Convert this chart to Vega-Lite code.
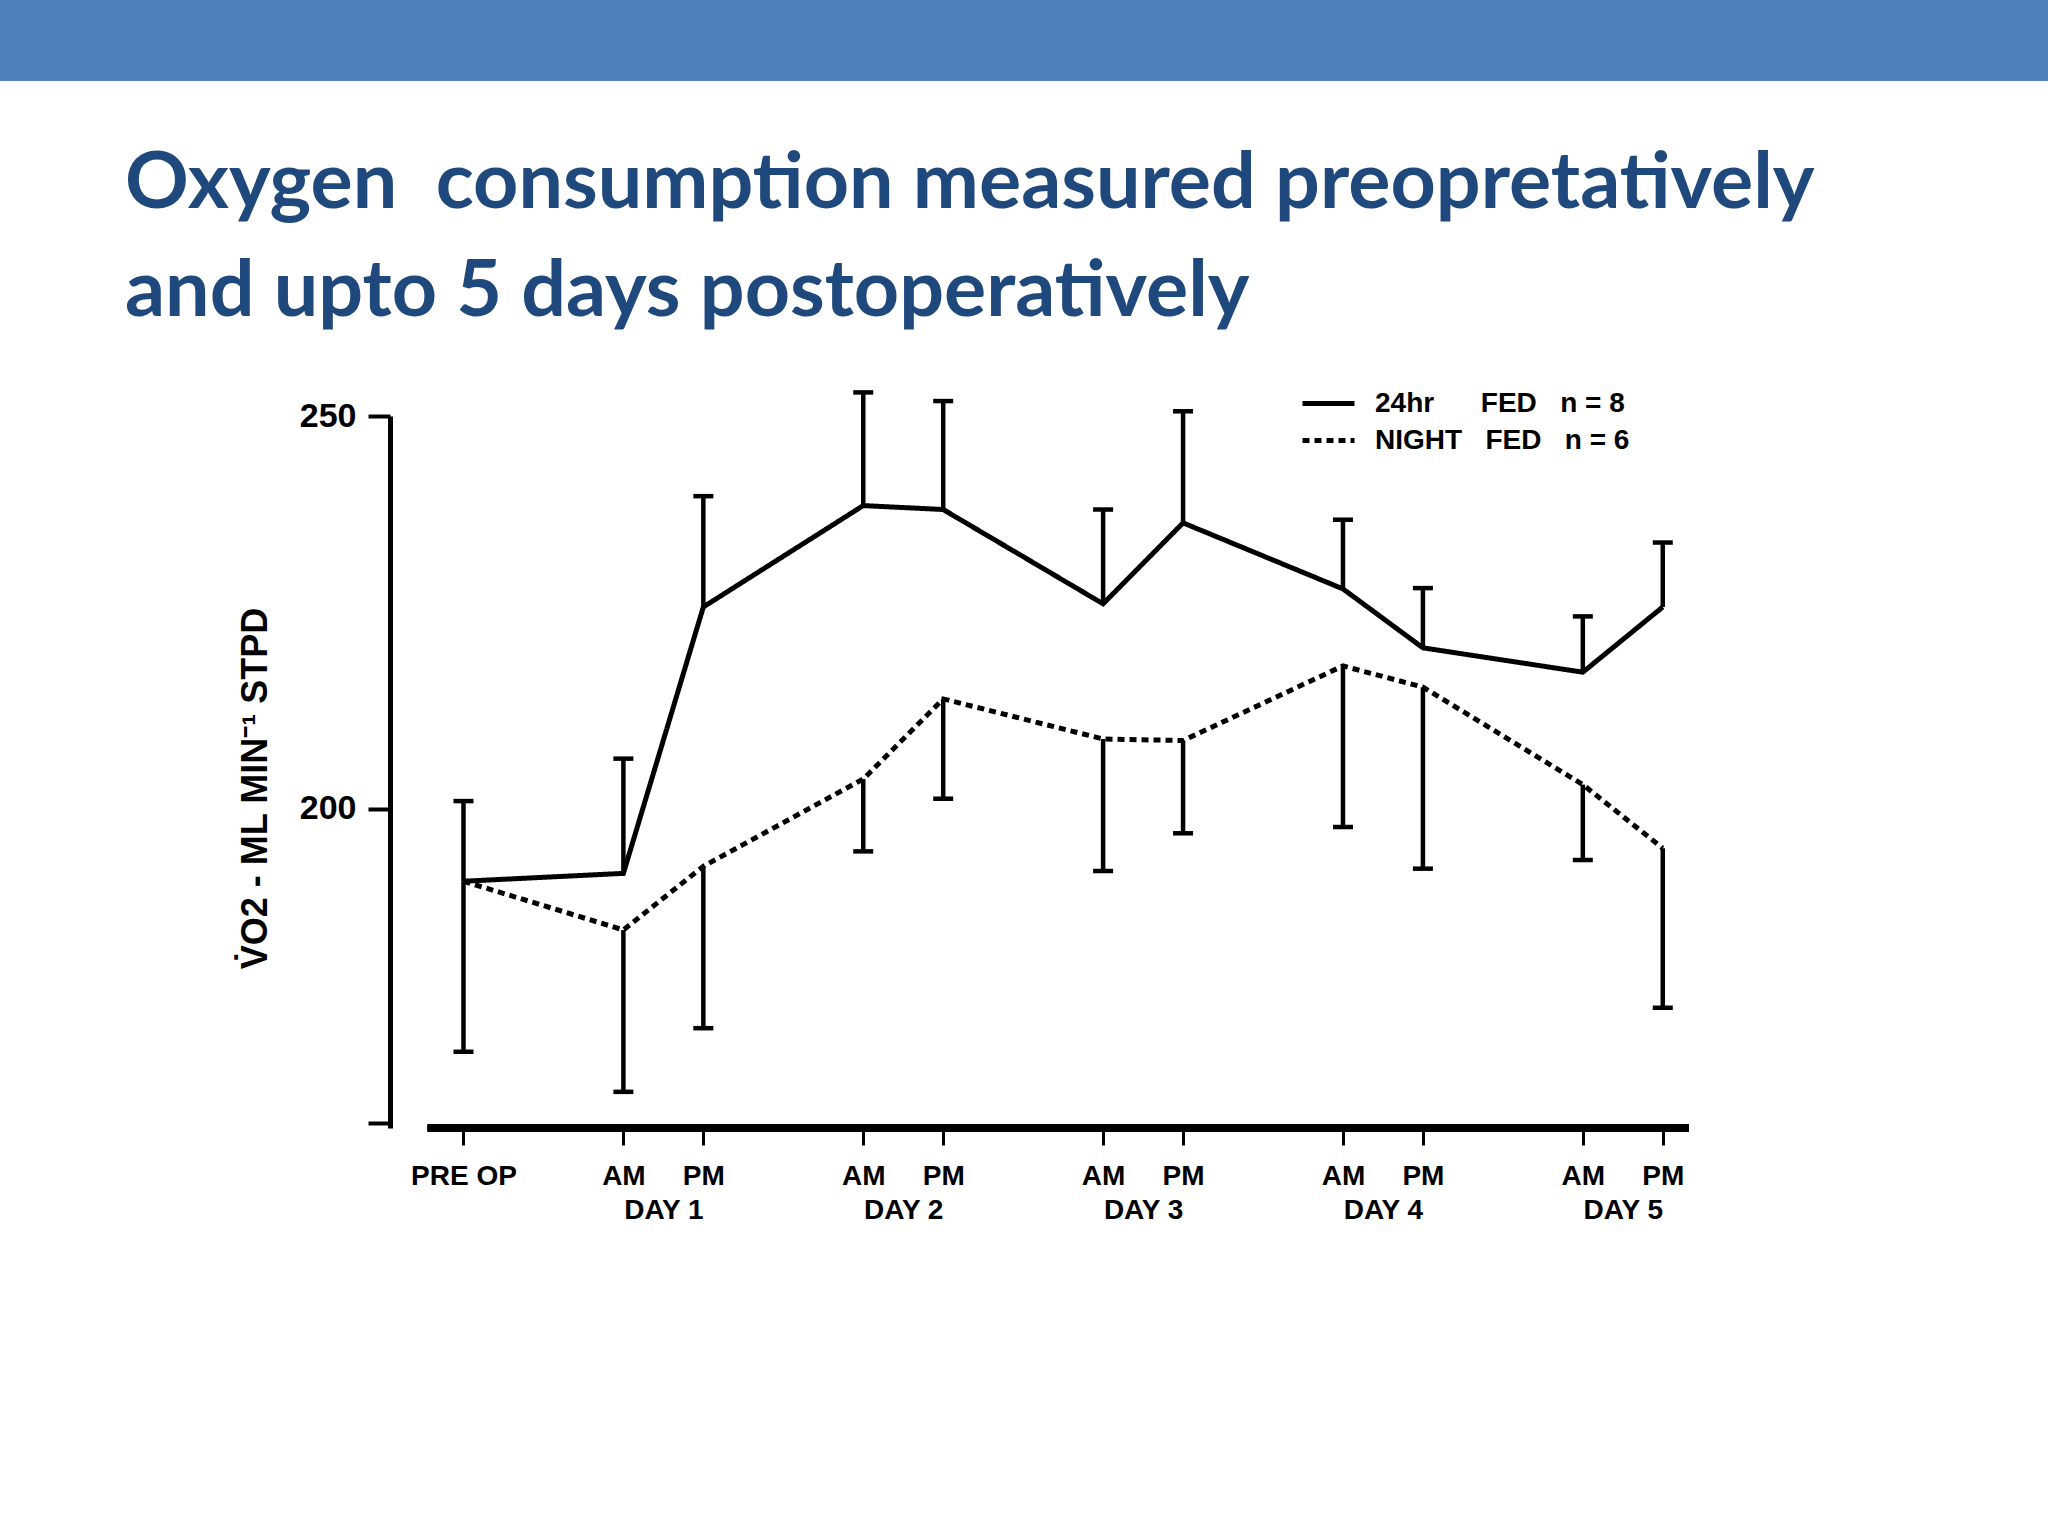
{
  "$schema": "https://vega.github.io/schema/vega-lite/v6.json",
  "padding": 0,
  "background": "white",
  "spacing": 64,
  "config": {
    "view": {"stroke": null},
    "font": "Liberation Sans"
  },
  "vconcat": [
    {
      "width": 2048,
      "height": 81,
      "data": {"values": [{"band": "header"}]},
      "mark": {"type": "rect", "color": "#4F81BD"},
      "encoding": {
        "x": {"datum": 0, "type": "quantitative", "scale": {"domain": [0, 1], "nice": false}, "axis": null},
        "x2": {"datum": 1},
        "y": {"datum": 0, "type": "quantitative", "scale": {"domain": [0, 1], "nice": false}, "axis": null},
        "y2": {"datum": 1}
      }
    },
    {
      "width": 1689,
      "height": 712,
      "title": {
        "text": ["Oxygen\u00a0 consumption measured preopretatively", "and upto 5 days postoperatively"],
        "anchor": "start",
        "frame": "group",
        "orient": "top",
        "dx": 125,
        "offset": 57,
        "font": "Lato",
        "fontSize": 79,
        "fontWeight": "bold",
        "color": "#1F497D",
        "lineHeight": 108
      },
      "data": {
        "values": [
          {"t": 1, "group": "24hr FED", "mean": 190.8, "end": 201.0},
          {"t": 3, "group": "24hr FED", "mean": 191.8, "end": 206.4},
          {"t": 4, "group": "24hr FED", "mean": 225.7, "end": 239.8},
          {"t": 6, "group": "24hr FED", "mean": 238.6, "end": 253.0},
          {"t": 7, "group": "24hr FED", "mean": 238.1, "end": 251.9},
          {"t": 9, "group": "24hr FED", "mean": 226.1, "end": 238.1},
          {"t": 10, "group": "24hr FED", "mean": 236.4, "end": 250.6},
          {"t": 12, "group": "24hr FED", "mean": 228.0, "end": 236.8},
          {"t": 13, "group": "24hr FED", "mean": 220.5, "end": 228.1},
          {"t": 15, "group": "24hr FED", "mean": 217.4, "end": 224.5},
          {"t": 16, "group": "24hr FED", "mean": 225.7, "end": 233.9},
          {"t": 1, "group": "NIGHT FED", "mean": 190.8, "end": 169.1},
          {"t": 3, "group": "NIGHT FED", "mean": 184.6, "end": 164.0},
          {"t": 4, "group": "NIGHT FED", "mean": 192.7, "end": 172.1},
          {"t": 6, "group": "NIGHT FED", "mean": 203.8, "end": 194.6},
          {"t": 7, "group": "NIGHT FED", "mean": 214.0, "end": 201.3},
          {"t": 9, "group": "NIGHT FED", "mean": 208.9, "end": 192.1},
          {"t": 10, "group": "NIGHT FED", "mean": 208.7, "end": 196.9},
          {"t": 12, "group": "NIGHT FED", "mean": 218.2, "end": 197.7},
          {"t": 13, "group": "NIGHT FED", "mean": 215.5, "end": 192.4},
          {"t": 15, "group": "NIGHT FED", "mean": 203.1, "end": 193.5},
          {"t": 16, "group": "NIGHT FED", "mean": 195.0, "end": 174.7}
        ]
      },
      "layer": [
        {
          "mark": {"type": "line", "color": "black", "strokeWidth": 5, "strokeJoin": "miter"},
          "encoding": {
            "x": {
              "field": "t", "type": "quantitative",
              "scale": {"domain": [-4.797, 16.328], "nice": false, "zero": false},
              "axis": {
                "orient": "bottom",
                "title": null,
                "grid": false,
                "domain": false,
                "values": [1, 3, 4, 6, 7, 9, 10, 12, 13, 15, 16],
                "labelExpr": "datum.value == 1 ? 'PRE OP' : (datum.value % 3 == 0 ? 'AM' : 'PM')",
                "ticks": true,
                "tickSize": 17,
                "tickWidth": 3,
                "tickColor": "black",
                "labelFont": "Liberation Sans",
                "labelFontSize": 28,
                "labelFontWeight": "bold",
                "labelColor": "black",
                "labelPadding": 17,
                "labelFlush": false,
                "labelOverlap": false
              }
            },
            "y": {
              "field": "mean", "type": "quantitative",
              "scale": {"domain": [159.4, 250], "nice": false, "zero": false},
              "axis": {
                "offset": -390,
                "title": "V\u0307O2 - ML MIN\u207b\u00b9 STPD",
                "titleFont": "Liberation Sans",
                "titleFontSize": 36,
                "titleFontWeight": "bold",
                "titleColor": "black",
                "titleX": -135,
                "titleY": 372,
                "titleAngle": -90,
                "titleAlign": "center",
                "titleBaseline": "middle",
                "grid": false,
                "values": [160, 200, 250],
                "labelExpr": "datum.value == 160 ? '' : datum.label",
                "domainColor": "black",
                "domainWidth": 5,
                "tickColor": "black",
                "tickWidth": 4,
                "tickSize": 22,
                "labelFont": "Liberation Sans",
                "labelFontSize": 34,
                "labelFontWeight": "bold",
                "labelColor": "black",
                "labelPadding": 12,
                "labelFlush": false,
                "labelOverlap": false
              }
            },
            "strokeDash": {
              "field": "group", "type": "nominal",
              "scale": {"domain": ["24hr FED", "NIGHT FED"], "range": [[1, 0], [7, 5]]},
              "legend": {
                "title": null,
                "orient": "none",
                "legendX": 1300,
                "legendY": 385,
                "padding": 0,
                "clipHeight": 37,
                "symbolType": "stroke",
                "symbolSize": 2704,
                "symbolStrokeWidth": 5,
                "symbolStrokeColor": "black",
                "labelFont": "Liberation Sans",
                "labelFontSize": 28,
                "labelFontWeight": "bold",
                "labelColor": "black",
                "labelOffset": 18,
                "labelLimit": 0,
                "rowPadding": 0,
                "labelExpr": "datum.label == '24hr FED' ? '24hr\u00a0\u00a0\u00a0\u00a0\u00a0\u00a0FED\u00a0\u00a0\u00a0n = 8' : 'NIGHT\u00a0\u00a0\u00a0FED\u00a0\u00a0\u00a0n = 6'"
              }
            }
          }
        },
        {
          "mark": {"type": "rule", "color": "black", "strokeWidth": 4.5},
          "encoding": {
            "x": {"field": "t", "type": "quantitative", "axis": null},
            "y": {"field": "mean", "type": "quantitative"},
            "y2": {"field": "end"}
          }
        },
        {
          "mark": {"type": "tick", "orient": "horizontal", "color": "black", "size": 20, "thickness": 4.5, "opacity": 1},
          "encoding": {
            "x": {"field": "t", "type": "quantitative", "axis": null},
            "y": {"field": "end", "type": "quantitative"}
          }
        },
        {
          "mark": {"type": "rule", "color": "black", "strokeWidth": 7},
          "encoding": {
            "x": {
              "datum": 0.555, "type": "quantitative",
              "axis": {
                "orient": "bottom",
                "title": null,
                "grid": false,
                "domain": false,
                "ticks": false,
                "tickSize": 0,
                "values": [3.5, 6.5, 9.5, 12.5, 15.5],
                "labelExpr": "'DAY ' + format((datum.value - 0.5) / 3, 'd')",
                "labelFont": "Liberation Sans",
                "labelFontSize": 28,
                "labelFontWeight": "bold",
                "labelColor": "black",
                "labelPadding": 68,
                "labelFlush": false,
                "labelOverlap": false
              }
            },
            "x2": {"datum": 16.328},
            "y": {"datum": 159.4, "type": "quantitative"}
          }
        }
      ],
      "resolve": {"axis": {"x": "independent"}}
    }
  ]
}
